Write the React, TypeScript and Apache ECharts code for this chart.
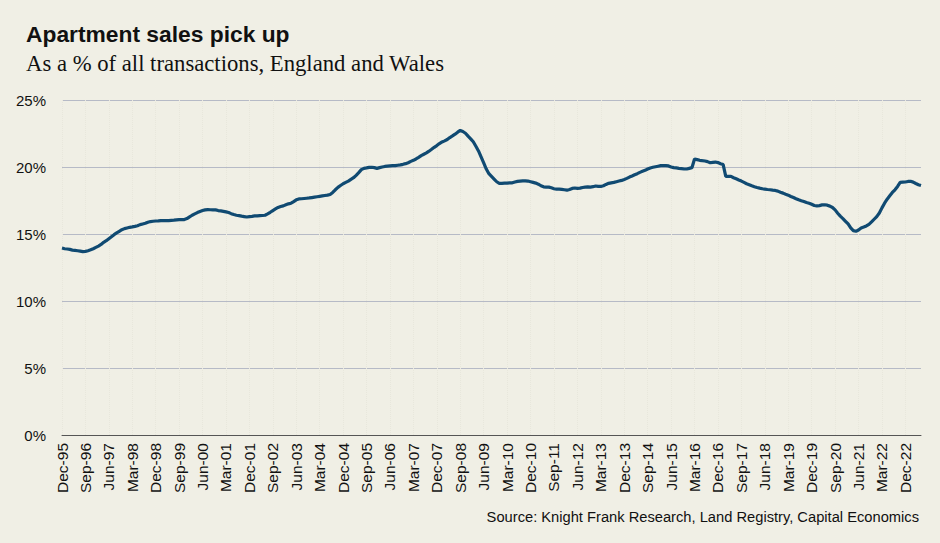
import React, { useEffect, useRef } from "react";
import * as echarts from "echarts";

const MONTHS = ["Jan", "Feb", "Mar", "Apr", "May", "Jun", "Jul", "Aug", "Sep", "Oct", "Nov", "Dec"];

// Monthly values, % of all transactions (Dec-95 .. Jun-23)
const v1995 = [13.95];
const v1996 = [13.9, 13.88, 13.85, 13.8, 13.78, 13.75, 13.72, 13.68, 13.7, 13.75, 13.82, 13.9];
const v1997 = [14.0, 14.1, 14.22, 14.38, 14.5, 14.65, 14.8, 14.95, 15.08, 15.2, 15.32, 15.4];
const v1998 = [15.45, 15.5, 15.53, 15.57, 15.62, 15.7, 15.75, 15.8, 15.88, 15.93, 15.95, 15.97];
const v1999 = [15.98, 16.0, 16.0, 16.0, 16.0, 16.02, 16.03, 16.05, 16.07, 16.07, 16.08, 16.15];
const v2000 = [16.28, 16.4, 16.5, 16.6, 16.68, 16.75, 16.8, 16.82, 16.81, 16.8, 16.8, 16.75];
const v2001 = [16.72, 16.69, 16.65, 16.6, 16.52, 16.45, 16.4, 16.37, 16.33, 16.3, 16.27, 16.3];
const v2002 = [16.32, 16.35, 16.35, 16.37, 16.38, 16.4, 16.5, 16.62, 16.75, 16.87, 16.98, 17.05];
const v2003 = [17.1, 17.18, 17.25, 17.3, 17.42, 17.55, 17.62, 17.63, 17.65, 17.67, 17.69, 17.72];
const v2004 = [17.75, 17.78, 17.81, 17.84, 17.87, 17.9, 17.95, 18.1, 18.3, 18.48, 18.62, 18.75];
const v2005 = [18.85, 18.95, 19.08, 19.2, 19.38, 19.58, 19.8, 19.9, 19.93, 19.97, 19.98, 19.95];
const v2006 = [19.9, 19.95, 20.0, 20.04, 20.06, 20.08, 20.1, 20.1, 20.13, 20.16, 20.2, 20.25];
const v2007 = [20.32, 20.42, 20.5, 20.6, 20.72, 20.85, 20.95, 21.05, 21.18, 21.32, 21.47, 21.6];
const v2008 = [21.75, 21.87, 21.95, 22.05, 22.2, 22.32, 22.45, 22.6, 22.73, 22.65, 22.52, 22.3];
const v2009 = [22.1, 21.88, 21.55, 21.2, 20.75, 20.3, 19.85, 19.5, 19.3, 19.1, 18.9, 18.78];
const v2010 = [18.78, 18.8, 18.8, 18.82, 18.82, 18.88, 18.93, 18.95, 18.97, 18.97, 18.95, 18.9];
const v2011 = [18.85, 18.8, 18.72, 18.6, 18.52, 18.5, 18.5, 18.45, 18.38, 18.35, 18.35, 18.33];
const v2012 = [18.3, 18.27, 18.32, 18.4, 18.43, 18.4, 18.42, 18.47, 18.5, 18.52, 18.5, 18.53];
const v2013 = [18.58, 18.55, 18.55, 18.6, 18.7, 18.78, 18.82, 18.85, 18.9, 18.95, 19.0, 19.07];
const v2014 = [19.15, 19.25, 19.33, 19.42, 19.5, 19.6, 19.68, 19.75, 19.85, 19.93, 19.98, 20.02];
const v2015 = [20.06, 20.1, 20.1, 20.1, 20.08, 20.0, 19.95, 19.93, 19.9, 19.88, 19.85, 19.85];
const v2016 = [19.9, 19.95, 20.6, 20.55, 20.5, 20.47, 20.45, 20.4, 20.32, 20.35, 20.37, 20.33];
const v2017 = [20.25, 20.18, 19.3, 19.3, 19.3, 19.2, 19.12, 19.03, 18.95, 18.85, 18.75, 18.68];
const v2018 = [18.6, 18.53, 18.47, 18.42, 18.38, 18.35, 18.32, 18.3, 18.27, 18.25, 18.2, 18.12];
const v2019 = [18.05, 17.97, 17.9, 17.8, 17.72, 17.63, 17.55, 17.48, 17.42, 17.35, 17.3, 17.22];
const v2020 = [17.13, 17.1, 17.12, 17.17, 17.18, 17.15, 17.08, 16.98, 16.8, 16.55, 16.33, 16.15];
const v2021 = [15.95, 15.75, 15.45, 15.25, 15.2, 15.3, 15.45, 15.52, 15.6, 15.72, 15.9, 16.1];
const v2022 = [16.3, 16.57, 16.95, 17.3, 17.6, 17.85, 18.1, 18.3, 18.55, 18.85, 18.87, 18.88];
const v2023 = [18.92, 18.93, 18.87, 18.77, 18.68, 18.62];

const values = [
  ...v1995, ...v1996, ...v1997, ...v1998, ...v1999, ...v2000, ...v2001, ...v2002,
  ...v2003, ...v2004, ...v2005, ...v2006, ...v2007, ...v2008, ...v2009, ...v2010,
  ...v2011, ...v2012, ...v2013, ...v2014, ...v2015, ...v2016, ...v2017, ...v2018,
  ...v2019, ...v2020, ...v2021, ...v2022, ...v2023,
];

// Category labels: month-year from Dec-95 onward
const categories: string[] = values.map((_, i) => {
  const m = (11 + i) % 12;
  const y = 1995 + Math.floor((11 + i) / 12);
  return `${MONTHS[m]}-${String(y % 100).padStart(2, "0")}`;
});

const TITLE = "Apartment sales pick up";
const SUBTITLE = "As a % of all transactions, England and Wales";
const SOURCE = "Source: Knight Frank Research, Land Registry, Capital Economics";

export default function App() {
  const ref = useRef<HTMLDivElement>(null);
  useEffect(() => {
    if (!ref.current) return;
    const chart = echarts.init(ref.current, null, { renderer: "svg" });
    chart.setOption({
      animation: false,
      backgroundColor: "#f0efe5",
      title: [
        {
          text: TITLE,
          left: 21,
          top: 17,
          textStyle: { fontFamily: "Liberation Sans, Arial, sans-serif", fontWeight: "bold", fontSize: 22.8, color: "#111" },
        },
        {
          text: SUBTITLE,
          left: 21,
          top: 47,
          textStyle: { fontFamily: "Liberation Serif, Times New Roman, serif", fontWeight: "normal", fontSize: 22.7, color: "#111" },
        },
        {
          text: SOURCE,
          right: 16,
          top: 504,
          textStyle: { fontFamily: "Liberation Sans, Arial, sans-serif", fontWeight: "normal", fontSize: 14.7, color: "#111" },
        },
      ],
      grid: { left: 62, right: 19, top: 100, bottom: 108 },
      xAxis: {
        type: "category",
        data: categories,
        boundaryGap: false,
        axisLine: { show: true, lineStyle: { color: "#555", width: 1 } },
        axisTick: { show: false },
        axisLabel: {
          interval: 8,
          rotate: 90,
          margin: 8,
          fontFamily: "Liberation Sans, Arial, sans-serif",
          fontSize: 15.5,
          color: "#111",
        },
        splitLine: { show: true, interval: 8, lineStyle: { color: "#e8e7dc", width: 1, type: "dotted" } },
      },
      yAxis: {
        type: "value",
        min: 0,
        max: 25,
        interval: 5,
        axisLine: { show: false },
        axisTick: { show: false },
        axisLabel: {
          formatter: "{value}%",
          margin: 16,
          fontFamily: "Liberation Sans, Arial, sans-serif",
          fontSize: 15,
          color: "#111",
        },
        splitLine: { show: true, lineStyle: { color: "#b6bac6", width: 1 } },
      },
      series: [
        {
          type: "line",
          data: values,
          showSymbol: false,
          symbol: "none",
          lineStyle: { color: "#104a72", width: 3.2 },
        },
      ],
    });
    return () => chart.dispose();
  }, []);
  return <div ref={ref} style={{ width: 940, height: 543, position: "absolute", left: 0, top: 0 }} />;
}
